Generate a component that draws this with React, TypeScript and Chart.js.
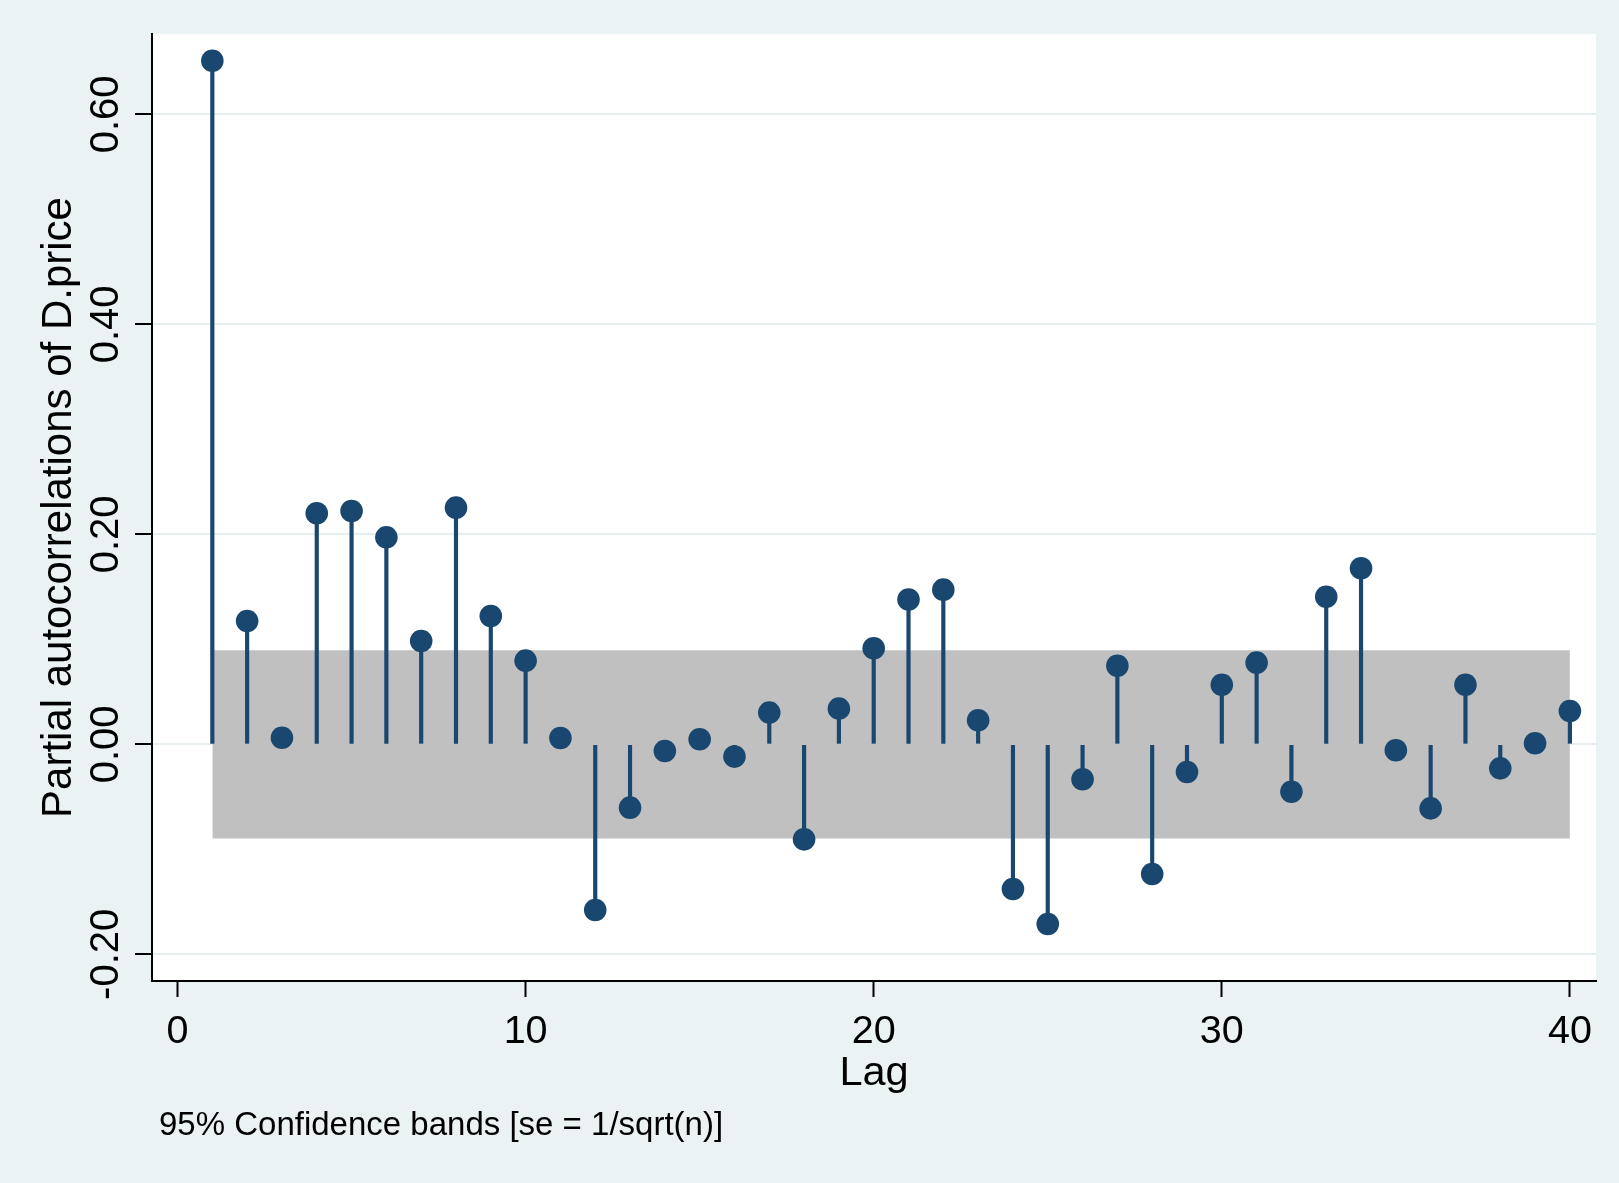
import { useEffect, useRef } from "react"
import { Chart, registerables } from "chart.js"

Chart.register(...registerables)

const lags = [
  1, 2, 3, 4, 5, 6, 7, 8, 9, 10, 11, 12, 13, 14, 15, 16, 17, 18, 19, 20,
  21, 22, 23, 24, 25, 26, 27, 28, 29, 30, 31, 32, 33, 34, 35, 36, 37, 38, 39, 40,
]
const pac = [
  0.651, 0.1175, 0.0063, 0.22, 0.2222, 0.1971, 0.0984, 0.2254, 0.1222, 0.0797,
  0.006, -0.1578, -0.0603, -0.0063, 0.0048, -0.0117, 0.0302, -0.0905, 0.034, 0.0914,
  0.138, 0.1473, 0.0229, -0.1378, -0.1711, -0.0333, 0.0749, -0.1235, -0.0263, 0.0568,
  0.0778, -0.0451, 0.1406, 0.1676, -0.0057, -0.061, 0.0568, -0.0229, 0.001, 0.0317,
]
const bandLags = [1, 40]
const bandUpper = [0.0897, 0.0897]
const bandLower = [-0.0897, -0.0897]
const xTicks = [0, 10, 20, 30, 40]
const yTicks = [-0.2, 0, 0.2, 0.4, 0.6]
const yTickLabels = ["-0.20", "0.00", "0.20", "0.40", "0.60"]
const note = "95% Confidence bands [se = 1/sqrt(n)]"

const W = 1619
const H = 1183
const FONT = 'Arial, "Liberation Sans", sans-serif'
const NAVY = "#1A476F"
const BG = "#EAF2F3"

const backgroundPlugin = {
  id: "stataBackground",
  beforeDraw(chart: any) {
    const { ctx, chartArea } = chart
    ctx.save()
    ctx.fillStyle = BG
    ctx.fillRect(0, 0, chart.width, chart.height)
    ctx.fillStyle = "#fff"
    ctx.fillRect(chartArea.left, chartArea.top, chartArea.right - chartArea.left, chartArea.bottom - chartArea.top)
    ctx.restore()
  },
}

// y tick labels are rotated like in Stata, so draw them here
const textPlugin = {
  id: "stataText",
  afterDraw(chart: any) {
    const { ctx } = chart
    const y = chart.scales.y
    ctx.save()
    ctx.fillStyle = "#000"
    ctx.font = `40px ${FONT}`
    ctx.textAlign = "center"
    ctx.textBaseline = "alphabetic"
    yTicks.forEach((v, i) => {
      ctx.save()
      ctx.translate(118, y.getPixelForValue(v))
      ctx.rotate(-Math.PI / 2)
      ctx.fillText(yTickLabels[i], 0, 0)
      ctx.restore()
    })
    ctx.font = `33px ${FONT}`
    ctx.textAlign = "left"
    ctx.fillText(note, 159, 1135)
    ctx.restore()
  },
}

function PacChart() {
  const canvasRef = useRef<HTMLCanvasElement>(null)
  const chartRef = useRef<Chart | null>(null)

  useEffect(() => {
    if (!canvasRef.current) return
    if (chartRef.current) chartRef.current.destroy()
    const ctx = canvasRef.current.getContext("2d")
    if (!ctx) return

    chartRef.current = new Chart(ctx, {
      type: "bar",
      data: {
        datasets: [
          {
            type: "line",
            data: bandLags.map((x, i) => ({ x, y: bandUpper[i] })),
            borderWidth: 0,
            pointRadius: 0,
            backgroundColor: "#C0C0C0",
            fill: "+1",
            order: 3,
          },
          {
            type: "line",
            data: bandLags.map((x, i) => ({ x, y: bandLower[i] })),
            borderWidth: 0,
            pointRadius: 0,
            fill: false,
            order: 2,
          },
          {
            type: "bar",
            data: lags.map((x, i) => ({ x, y: [0, pac[i]] })),
            backgroundColor: NAVY,
            borderWidth: 0,
            barThickness: 3.5,
            order: 1,
          },
          {
            type: "scatter",
            data: lags.map((x, i) => ({ x, y: pac[i] })),
            backgroundColor: NAVY,
            borderWidth: 0,
            pointRadius: 11.3,
            pointHoverRadius: 11.3,
            order: 0,
          },
        ] as any,
      },
      options: {
        responsive: false,
        animation: false,
        layout: { padding: { left: 0, top: 34, right: 23, bottom: 0 } },
        plugins: {
          legend: { display: false },
          tooltip: { enabled: false },
        },
        scales: {
          x: {
            type: "linear",
            min: -0.733,
            max: 40.75,
            offset: false,
            afterBuildTicks: (scale: any) => {
              scale.ticks = xTicks.map((value) => ({ value }))
            },
            afterFit: (scale: any) => {
              scale.height = H - 981
            },
            ticks: {
              color: "#000",
              font: { family: FONT, size: 39.5, lineHeight: 1.2 },
              padding: 11,
              maxRotation: 0,
              autoSkip: false,
              callback: (v: any) => String(v),
            },
            grid: {
              offset: false,
              drawOnChartArea: false,
              tickLength: 16,
              tickWidth: 2,
              tickColor: "#000",
            },
            border: { color: "#000", width: 2 },
            title: {
              display: true,
              text: "Lag",
              color: "#000",
              font: { family: FONT, size: 41.5, lineHeight: 1.2 },
              padding: { top: 0, bottom: 85 },
            },
          },
          y: {
            type: "linear",
            min: -0.2254,
            max: 0.6765,
            afterBuildTicks: (scale: any) => {
              scale.ticks = yTicks.map((value) => ({ value }))
            },
            afterFit: (scale: any) => {
              scale.width = 152
            },
            ticks: { display: false },
            grid: {
              color: "#E6EEF0",
              lineWidth: 2,
              tickLength: 17,
              tickWidth: 2,
              tickColor: "#000",
            },
            border: { color: "#000", width: 2 },
            title: {
              display: true,
              text: "Partial autocorrelations of D.price",
              color: "#000",
              font: { family: FONT, size: 42, lineHeight: 1.2 },
              padding: { top: 34, bottom: 0 },
            },
          },
        },
      } as any,
      plugins: [backgroundPlugin, textPlugin],
    })

    return () => {
      if (chartRef.current) chartRef.current.destroy()
    }
  }, [])

  return <canvas ref={canvasRef} width={W} height={H} style={{ display: "block" }} />
}

export default function App() {
  return (
    <div style={{ position: "fixed", left: 0, top: 0, width: W, height: H, background: BG }}>
      <PacChart />
    </div>
  )
}
